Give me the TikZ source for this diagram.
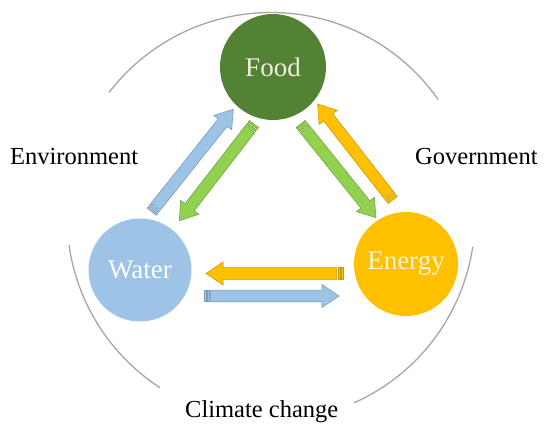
\documentclass[tikz,border=0pt]{standalone}
\usepackage{fontspec}
\setmainfont{Liberation Serif}
\usetikzlibrary{calc}

\definecolor{foodgreen}{HTML}{548235}
\definecolor{waterblue}{HTML}{9DC3E6}
\definecolor{energyorange}{HTML}{FFC000}
\definecolor{leafgreen}{HTML}{92D050}
\definecolor{ringgray}{HTML}{A6A6A6}
\definecolor{foodtext}{HTML}{EEF0E0}
\definecolor{energytext}{HTML}{FFF5D6}

\tikzset{
    hub/.style={circle,minimum size=#1,inner sep=0pt,font=\fontsize{27}{30}\selectfont},
    factor/.style={inner sep=0pt,anchor=base west,font=\fontsize{24.5}{28}\selectfont},
    flow/.style={fill=#1,draw=#1!80!black,line width=0.6pt,line join=miter},
    ring/.style={draw=ringgray,line width=1.3pt},
}

% striped block arrow: tail, tip, colour
\newcommand\flowarrow[3]{%
    \coordinate (fa-b) at ($(#1)!6.4pt!(#2)$);
    \coordinate (fa-n) at ($(#2)!17pt!(#1)$);
    \filldraw[flow=#3] ($(fa-b)!5.8pt!90:(#2)$) -- ($(fa-n)!5.8pt!90:(#2)$)
        -- ($(fa-n)!11.5pt!90:(#2)$) -- (#2) -- ($(fa-n)!11.5pt!-90:(#2)$)
        -- ($(fa-n)!5.8pt!-90:(#2)$) -- ($(fa-b)!5.8pt!-90:(#2)$) -- cycle;
    \foreach \barA/\barB in {0pt/2pt,3.2pt/5.2pt}{
        \coordinate (fa-s) at ($(#1)!\barA!(#2)$);
        \coordinate (fa-e) at ($(#1)!\barB!(#2)$);
        \filldraw[flow=#3] ($(fa-s)!5.8pt!90:(#2)$) -- ($(fa-e)!5.8pt!90:(#2)$)
            -- ($(fa-e)!5.8pt!-90:(#2)$) -- ($(fa-s)!5.8pt!-90:(#2)$) -- cycle;
    }
}

\begin{document}
\begin{tikzpicture}[x=1pt,y=1pt]
    \useasboundingbox (0,0) rectangle (550,431);

    % outer ring, broken by the labels
    \coordinate (ringc) at (271,214.5);
    \draw[ring] ($(ringc)+(35:204pt)$) arc[start angle=35,end angle=142.6,radius=204pt];
    \draw[ring] ($(ringc)+(188:204pt)$) arc[start angle=188,end angle=237,radius=204pt];
    \draw[ring] ($(ringc)+(294:204pt)$) arc[start angle=294,end angle=351.5,radius=204pt];

    \node[hub=106pt,fill=foodgreen,text=foodtext] (food) at (273,364) {Food};
    \node[hub=103pt,fill=waterblue,text=white] (water) at (140,161) {Water};
    \node[hub=104pt,fill=energyorange,text=energytext] (energy) at (406,167) {Energy};

    \node[factor] (env) at (10,266) {Environment};
    \node[factor] (gov) at (415,266.7) {Government};
    \node[factor] (climate) at (185,13.7) {Climate change};

    % arrow ends
    \coordinate (wf-t) at (151.7,219.3);
    \coordinate (wf-h) at (233.3,321.7);
    \coordinate (fw-t) at (254,307);
    \coordinate (fw-h) at (179.3,210.3);
    \coordinate (fe-t) at (300.7,307);
    \coordinate (fe-h) at (376,213.3);
    \coordinate (ef-t) at (392.7,231);
    \coordinate (ef-h) at (317.7,327);
    \coordinate (ew-t) at (343,157.5);
    \coordinate (ew-h) at (206,157.5);
    \coordinate (we-t) at (204,135);
    \coordinate (we-h) at (339,135);

    \flowarrow{wf-t}{wf-h}{waterblue}
    \flowarrow{fw-t}{fw-h}{leafgreen}
    \flowarrow{fe-t}{fe-h}{leafgreen}
    \flowarrow{ef-t}{ef-h}{energyorange}
    \flowarrow{ew-t}{ew-h}{energyorange}
    \flowarrow{we-t}{we-h}{waterblue}
\end{tikzpicture}
\end{document}
